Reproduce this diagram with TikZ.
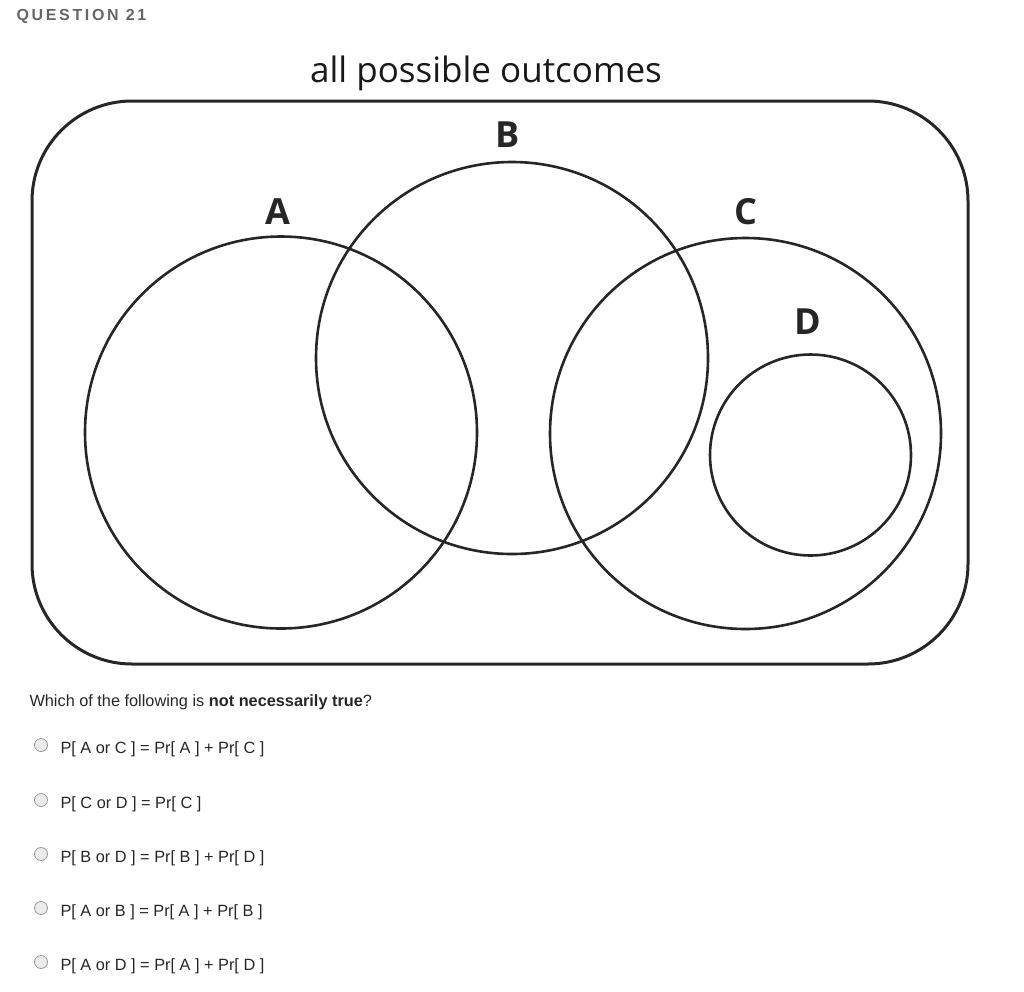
\documentclass[tikz,border=0pt]{standalone}
\usepackage{fontspec}
\setmainfont{Liberation Sans}
\newfontfamily\os{Open Sans}
\begin{document}
\begin{tikzpicture}[x=1pt,y=-1pt,
  set/.style={draw=black!85,line width=2.6pt},
  lbl/.style={font=\os\fontsize{36}{36}\selectfont\bfseries,text=black!85},
  opt/.style={anchor=west,font=\fontsize{16.3}{18}\selectfont,text=black!85},
  radio/.style={circle,draw=black!40,fill=black!8,line width=0.8pt,minimum size=13pt,inner sep=0pt}]
\useasboundingbox (0,0) rectangle (1024,991);
\node[anchor=west,font=\fontsize{16}{18}\selectfont\bfseries,text=black!60] (q) at (13,16) {Q\,U\,E\,S\,T\,I\,O\,N\, 2\,1};
\node[font=\os\fontsize{35}{36}\selectfont,text=black!90] (t) at (486,73) {all possible outcomes};
\draw[set,line width=3pt,rounded corners=100pt] (32,101) rectangle (968,664);
\draw[set] (281,432.5) circle[radius=196];
\draw[set] (512,358) circle[radius=196];
\draw[set] (745.5,433.5) circle[radius=195.5];
\draw[set] (810.5,455) circle[radius=100.5];
\node[lbl] (B) at (508,135) {B};
\node[lbl] (A) at (278,212) {A};
\node[lbl] (C) at (746,212) {C};
\node[lbl] (D) at (808,322) {D};
\node[opt] (qq) at (26,702) {Which of the following is \textbf{not necessarily true}?};
\foreach \y/\t [count=\i] in {745/{P[ A or C ] = Pr[ A ] + Pr[ C ]},800/{P[ C or D ] = Pr[ C ]},854/{P[ B or D ] = Pr[ B ] + Pr[ D ]},908/{P[ A or B ] = Pr[ A ] + Pr[ B ]},962/{P[ A or D ] = Pr[ A ] + Pr[ D ]}}{
  \node[radio] (r\i) at (41,\y) {};
  \node[opt] (o\i) at (57,\y+4) {\t};
}
\end{tikzpicture}
\end{document}
